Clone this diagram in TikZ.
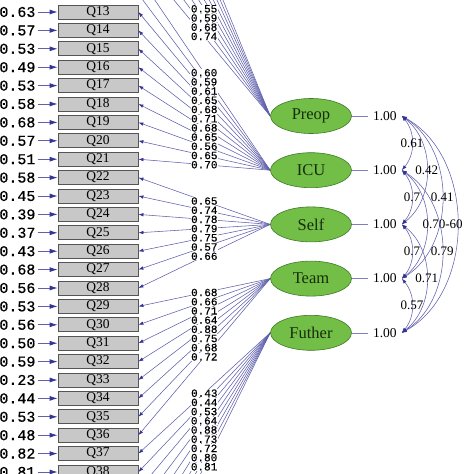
\documentclass[tikz,border=0pt]{standalone}
\usepackage{fontspec}
\setmainfont{Liberation Serif}
\newfontfamily\numfont{Liberation Mono}[FakeBold=0.5]
\usetikzlibrary{positioning, shapes.geometric, arrows.meta, backgrounds}

\definecolor{pathblue}{RGB}{95,95,172}
\definecolor{headblue}{RGB}{52,52,150}
\definecolor{boxgray}{RGB}{200,200,200}
\definecolor{boxedge}{RGB}{85,85,85}
\definecolor{latentgreen}{RGB}{114,190,70}
\definecolor{latentedge}{RGB}{62,122,40}
\definecolor{latenttext}{RGB}{22,45,12}

% loading line behind, its value in front
\newcommand{\factorline}[3]{%
  \begin{pgfonlayer}{background}\draw[loadline] (#1) -- (#2);\end{pgfonlayer}
  \path (#1) -- (#2) node[lab] {#3};}

\begin{document}
\begin{tikzpicture}[
    x=1pt, y=-1pt,
    node distance=18.6pt,
    item/.style={rectangle, draw=boxedge, fill=boxgray, line width=0.8pt, minimum width=80pt, minimum height=14pt, inner sep=0pt, font=\fontsize{13.5}{13.5}\selectfont},
    err/.style={inner sep=2pt, font=\numfont\fontsize{15}{15}\selectfont},
    errarrow/.style={draw=pathblue, line width=0.8pt, -{Latex[length=8pt,width=5pt,color=headblue]}},
    latent/.style={ellipse, draw=latentedge, fill=latentgreen, line width=0.6pt, minimum width=81pt, minimum height=35pt, inner sep=0pt, text=latenttext, font=\fontsize{16.5}{18}\selectfont},
    varlab/.style={inner xsep=5pt, inner ysep=1pt, font=\fontsize{13.5}{14}\selectfont},
    loadline/.style={draw=pathblue, line width=0.55pt, -{Latex[length=5pt,width=3.5pt,color=headblue]}},
    lab/.style={pos=0.5, fill=white, inner sep=0.4pt, font=\numfont\fontsize{11}{11}\selectfont},
    cov/.style={draw=pathblue, line width=0.55pt, {Latex[length=5pt,width=3.5pt,color=headblue]}-{Latex[length=5pt,width=3.5pt,color=headblue]}},
    covlab/.style={inner sep=0.5pt, font=\fontsize{13}{13}\selectfont}
]
\useasboundingbox (0,0) rectangle (474,474);
\clip (0,0) rectangle (474,474);

% Latent factors
\node[latent] (preop) at (311,116) {Preop};
\node[latent, below=of preop] (icu) {ICU};
\node[latent, below=of icu] (self) {Self};
\node[latent, below=of self] (team) {Team};
\node[latent, below=of team] (futher) {Futher};

% Variances
\node[varlab, right=16pt of preop] (vpreop) {1.00};
\node[varlab, right=16pt of icu] (vicu) {1.00};
\node[varlab, right=16pt of self] (vself) {1.00};
\node[varlab, right=16pt of team] (vteam) {1.00};
\node[varlab, right=16pt of futher] (vfuther) {1.00};
\foreach \f in {preop, icu, self, team, futher}
  \draw[pathblue!80] (\f) -- (v\f);

% Items with their errors
\foreach \i/\e in {13/0.63, 14/0.57, 15/0.53, 16/0.49, 17/0.53, 18/0.58, 19/0.68,
    20/0.57, 21/0.51, 22/0.58, 23/0.45, 24/0.39, 25/0.37, 26/0.43, 27/0.68,
    28/0.56, 29/0.53, 30/0.56, 31/0.50, 32/0.59, 33/0.23, 34/0.44, 35/0.53,
    36/0.48, 37/0.82, 38/0.81} {
  \node[item] (q\i) at (98,{12+(\i-13)*18.4}) {Q\i};
  \node[err, left=20pt of q\i] (e\i) {\e};
  \draw[errarrow] (e\i) -- (q\i);
}

% Ends of the items above and below the crop
\foreach \i in {1,...,12,39,40,...,45}
  \coordinate (q\i) at (138,{12+(\i-13)*18.4});

% Loadings
\begin{pgfonlayer}{background}
\foreach \i in {1,...,6}
  \draw[loadline] (preop.west) -- (q\i);
\end{pgfonlayer}
\foreach \i/\l in {7/0.55, 8/0.59, 9/0.68, 10/0.74}
  {\factorline{preop.west}{q\i}{\l}}
\foreach \i/\l in {11/0.60, 12/0.59}
  {\factorline{icu.west}{q\i}{\l}}
\foreach \i/\l in {13/0.61, 14/0.65, 15/0.68, 16/0.71, 17/0.68, 18/0.65, 19/0.56, 20/0.65, 21/0.70}
  {\factorline{icu.west}{q\i.east}{\l}}
\foreach \i/\l in {22/0.65, 23/0.74, 24/0.78, 25/0.79, 26/0.75, 27/0.57, 28/0.66}
  {\factorline{self.west}{q\i.east}{\l}}
\foreach \i/\l in {29/0.68, 30/0.66, 31/0.71, 32/0.64, 33/0.88, 34/0.75, 35/0.68, 36/0.72}
  {\factorline{team.west}{q\i.east}{\l}}
\foreach \i/\l in {37/0.43, 38/0.44}
  {\factorline{futher.west}{q\i.east}{\l}}
\foreach \i/\l in {39/0.53, 40/0.64, 41/0.88, 42/0.73, 43/0.72, 44/0.80, 45/0.81}
  {\factorline{futher.west}{q\i}{\l}}

% Covariances
\draw[cov] (vpreop.east) to[bend left=40] node[covlab] {0.61} (vicu.east);
\draw[cov] (vpreop.east) to[bend left=52] node[covlab] {0.42} (vself.east);
\draw[cov] (vpreop.east) to[bend left=58] node[covlab] {0.41} (vteam.east);
\draw[cov] (vpreop.east) to[bend left=61] (vfuther.east);
\draw[cov] (vicu.east) to[bend left=40] node[covlab] {0.7} (vself.east);
\draw[cov] (vicu.east) to[bend left=52] node[covlab, anchor=west, xshift=-5pt] {0.70-60} (vteam.east);
\draw[cov] (vicu.east) to[bend left=58] node[covlab] {0.79} (vfuther.east);
\draw[cov] (vself.east) to[bend left=40] node[covlab] {0.7} (vteam.east);
\draw[cov] (vself.east) to[bend left=52] node[covlab] {0.71} (vfuther.east);
\draw[cov] (vteam.east) to[bend left=40] node[covlab] {0.57} (vfuther.east);

\end{tikzpicture}
\end{document}
